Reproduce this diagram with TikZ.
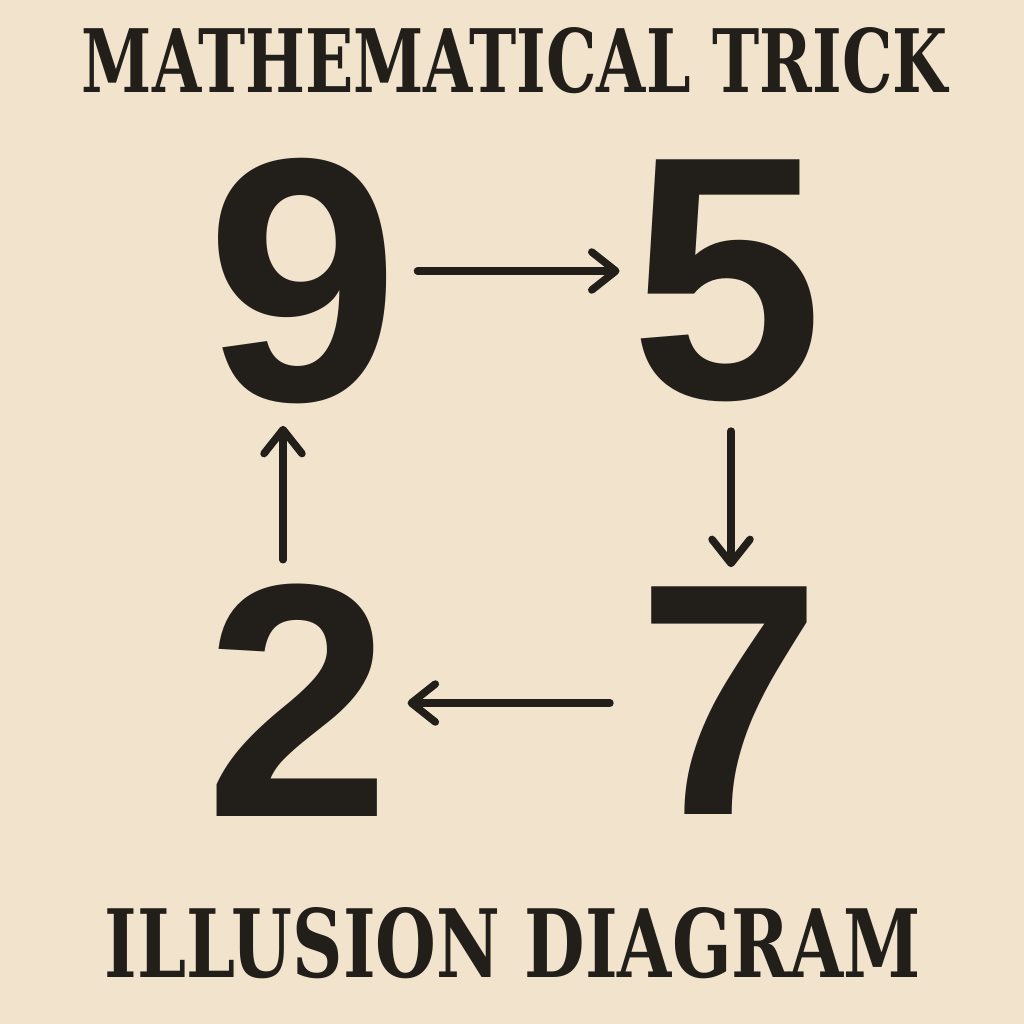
\documentclass[tikz,border=0pt]{standalone}
\usepackage{fontspec}
\setmainfont{Liberation Sans}
\newfontfamily\titlefont{DejaVu Serif}
\newfontfamily\digitfont{Liberation Sans}
\usetikzlibrary{arrows.meta,calc}
\definecolor{paper}{HTML}{F2E4CC}
\definecolor{ink}{HTML}{221F1B}
\tikzset{
  digit/.style={inner sep=0pt, outer sep=0pt, text=ink, font=\digitfont\bfseries},
  heading/.style={inner sep=0pt, outer sep=0pt, text=ink, font=\titlefont\bfseries},
  arr/.style={draw=ink, line width=7.5pt, line cap=round,
    -{Straight Barb[length=24pt,width=38pt,round]}}
}
\begin{document}
\begin{tikzpicture}[x=1pt,y=-1pt]
\useasboundingbox (0,0) rectangle (1024,1024);
\fill[paper] (0,0) rectangle (1024,1024);
\node[heading] (title) at (515,60.5) {\resizebox{866pt}{65pt}{MATHEMATICAL TRICK}};
\node[heading] (sub) at (513,943) {\resizebox{816pt}{70pt}{ILLUSION DIAGRAM}};
\node[digit] (n9) at (303,281) {\fontsize{347}{347}\selectfont 9};
\node[digit] (n5) at (727,281) {\fontsize{347}{347}\selectfont 5};
\node[digit] (n2) at (298,700) {\fontsize{333}{333}\selectfont 2};
\node[digit] (n7) at (730,701) {\fontsize{331}{331}\selectfont 7};
\draw[arr, shorten <=18pt, shorten >=11pt] ([yshift=10pt]n9.east) -- ([yshift=10pt]n5.west);
\draw[arr, shorten <=29pt, shorten >=20pt] ([xshift=4pt]n5.south) -- ([xshift=4pt]n5.south |- n7.north);
\draw[arr, shorten <=28pt, shorten >=17pt] ([yshift=-2pt]n7.west) -- ([yshift=-2pt]n7.west -| n2.east);
\draw[arr, shorten <=24pt, shorten >=22pt] ([xshift=-15pt]n2.north) -- ([xshift=-15pt]n2.north |- n9.south);
\end{tikzpicture}
\end{document}
